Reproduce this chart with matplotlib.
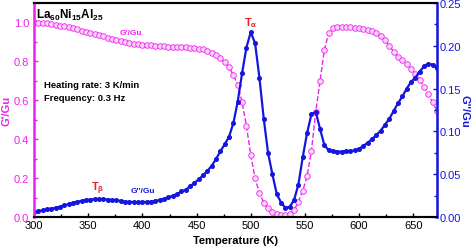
import matplotlib.pyplot as plt
from matplotlib.ticker import MultipleLocator

plt.rcParams['font.family'] = ['Liberation Sans', 'DejaVu Sans']
plt.rcParams['mathtext.fontset'] = 'custom'
plt.rcParams['mathtext.rm'] = 'Liberation Sans'
plt.rcParams['mathtext.it'] = 'Liberation Sans:italic'
plt.rcParams['mathtext.bf'] = 'Liberation Sans:bold'

temp = list(range(300, 673, 4))

g1 = [1.000, 0.999, 0.997, 0.995, 0.992, 0.988, 0.984, 0.980, 0.975, 0.970,
      0.964, 0.958, 0.952, 0.946, 0.940, 0.934, 0.928, 0.922, 0.916, 0.910,
      0.905, 0.900, 0.896, 0.892, 0.889, 0.886, 0.884, 0.882, 0.880, 0.878,
      0.877, 0.876, 0.875, 0.874, 0.873, 0.872, 0.871, 0.869, 0.866, 0.862,
      0.855, 0.845, 0.832, 0.815, 0.795, 0.770, 0.730, 0.680, 0.590, 0.470,
      0.320, 0.200, 0.125, 0.075, 0.045, 0.025, 0.016, 0.011, 0.010, 0.016,
      0.035, 0.080, 0.135, 0.210, 0.340, 0.540, 0.700, 0.860, 0.945, 0.970,
      0.975, 0.976, 0.976, 0.975, 0.974, 0.972, 0.968, 0.962, 0.955, 0.945,
      0.930, 0.910, 0.880, 0.850, 0.825, 0.805, 0.785, 0.760, 0.735, 0.705,
      0.670, 0.630, 0.590, 0.545]

g2 = [0.006, 0.007, 0.008, 0.009, 0.010, 0.011, 0.012, 0.014, 0.015, 0.017,
      0.018, 0.019, 0.020, 0.0205, 0.021, 0.021, 0.021, 0.0205, 0.020, 0.0195,
      0.019, 0.018, 0.0178, 0.0175, 0.0175, 0.0175, 0.0178, 0.018, 0.019, 0.020,
      0.021, 0.023, 0.025, 0.027, 0.030, 0.032, 0.036, 0.040, 0.044, 0.049,
      0.054, 0.060, 0.068, 0.077, 0.085, 0.094, 0.110, 0.135, 0.168, 0.198,
      0.216, 0.203, 0.163, 0.115, 0.075, 0.050, 0.027, 0.017, 0.011, 0.012,
      0.020, 0.038, 0.070, 0.098, 0.120, 0.123, 0.103, 0.084, 0.078, 0.077,
      0.0765, 0.0765, 0.077, 0.077, 0.078, 0.080, 0.083, 0.087, 0.091, 0.096,
      0.101, 0.108, 0.115, 0.124, 0.133, 0.141, 0.150, 0.158, 0.163, 0.170,
      0.176, 0.179, 0.178, 0.174]

magenta = '#f020f0'
blue = '#1515e0'
red = '#e8202a'

fig = plt.figure(figsize=(4.74, 2.51), dpi=100)
ax = fig.add_axes([0.072, 0.131, 0.850, 0.853])
ax2 = ax.twinx()

ax.plot(temp, g1, color=magenta, ls='--', lw=1.0, marker='o', ms=4.0,
        mfc='#fbd6fb', mec=magenta, mew=0.6)
ax2.plot(temp, g2, color=blue, lw=1.6, marker='o', ms=2.6, mfc=blue, mec=blue)

ax.set_xlim(300, 672)
ax.set_ylim(0, 1.1)
ax2.set_ylim(0, 0.25)

ax.xaxis.set_major_locator(MultipleLocator(50))
ax.xaxis.set_minor_locator(MultipleLocator(25))
ax.yaxis.set_major_locator(MultipleLocator(0.2))
ax.yaxis.set_minor_locator(MultipleLocator(0.1))
ax2.yaxis.set_major_locator(MultipleLocator(0.05))
ax2.yaxis.set_minor_locator(MultipleLocator(0.025))

ax.tick_params(axis='x', direction='in', length=3, width=1, labelsize=8, pad=2)
ax.tick_params(axis='x', which='minor', direction='in', length=2, width=1)
ax.tick_params(axis='y', which='both', direction='in', colors=magenta, labelsize=8, width=1)
ax.tick_params(axis='y', which='major', length=3)
ax.tick_params(axis='y', which='minor', length=2)
ax2.tick_params(axis='y', which='both', direction='in', colors=blue, labelsize=8, width=1)
ax2.tick_params(axis='y', which='major', length=3, pad=2)
ax2.tick_params(axis='y', which='minor', length=2)
ax.yaxis.set_major_formatter(plt.FormatStrFormatter('%.1f'))
ax2.yaxis.set_major_formatter(plt.FormatStrFormatter('%.2f'))

for a in (ax, ax2):
    a.spines['top'].set_linewidth(1.5)
    a.spines['bottom'].set_linewidth(1.5)
ax2.spines['left'].set_color(magenta)
ax2.spines['left'].set_linewidth(1.8)
ax2.spines['right'].set_color(blue)
ax2.spines['right'].set_linewidth(1.8)

ax.set_xlabel('Temperature (K)', fontsize=8, fontweight='bold', labelpad=4)
ax.set_ylabel("G'/Gu", fontsize=8, fontweight='bold', color=magenta, labelpad=2)
ax2.set_ylabel("G''/Gu", fontsize=8, fontweight='bold', color=blue,
               rotation=270, labelpad=6)

ax.text(302, 1.04, r'$\mathbf{La_{60}Ni_{15}Al_{25}}$', fontsize=8.5, va='center')
ax.text(389, 0.95, "G'/Gu", fontsize=6, color=magenta, fontweight='bold',
        ha='center', va='center')
ax.text(309, 0.68, 'Heating rate: 3 K/min', fontsize=6.8, fontweight='bold', va='center')
ax.text(309, 0.615, 'Frequency: 0.3 Hz', fontsize=6.8, fontweight='bold', va='center')
ax.text(500, 1.00, r'T$_\mathbf{\alpha}$', fontsize=8, color=red, fontweight='bold',
        ha='center', va='center')
ax.text(359, 0.15, r'T$_\mathbf{\beta}$', fontsize=8, color=red, fontweight='bold',
        ha='center', va='center')
ax.text(400, 0.135, "G''/Gu", fontsize=6, color=blue, fontweight='bold',
        ha='center', va='center')

fig.savefig('out.png', dpi=100)
